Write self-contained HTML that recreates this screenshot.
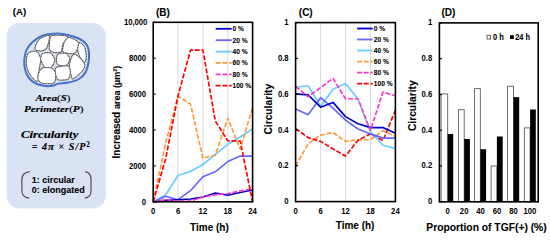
<!DOCTYPE html><html><head><meta charset="utf-8"><style>
html,body{margin:0;padding:0;background:#fff;width:550px;height:238px;overflow:hidden}
svg{display:block}
text{font-family:"Liberation Sans",sans-serif;font-weight:bold;fill:#000;stroke:#000;stroke-width:0.08px}
.ser{font-family:"Liberation Serif",serif;font-style:italic;font-weight:bold;stroke:#000;stroke-width:0.15px}
</style></head><body>
<svg width="550" height="238" viewBox="0 0 550 238">
<text x="12.8" y="15.1" font-size="9.6">(A)</text>
<rect x="6.7" y="23" width="99.1" height="185.6" rx="13" ry="13" fill="#dae3f3"/>
<path d="M52.70,33.70 C56.18,33.38 59.48,33.35 63.20,33.90 C66.92,34.45 71.73,35.85 75.00,37.00 C78.27,38.15 80.83,39.47 82.80,40.80 C84.77,42.13 85.82,43.38 86.80,45.00 C87.78,46.62 88.33,48.40 88.70,50.50 C89.07,52.60 89.12,55.18 89.00,57.60 C88.88,60.02 88.62,62.50 88.00,65.00 C87.38,67.50 86.80,70.27 85.30,72.60 C83.80,74.93 81.82,77.33 79.00,79.00 C76.18,80.67 71.73,81.85 68.40,82.60 C65.07,83.35 61.33,83.07 59.00,83.50 C56.67,83.93 56.23,84.73 54.40,85.20 C52.57,85.67 50.77,86.47 48.00,86.30 C45.23,86.13 40.55,85.12 37.80,84.20 C35.05,83.28 33.37,82.50 31.50,80.80 C29.63,79.10 27.80,76.70 26.60,74.00 C25.40,71.30 24.63,67.35 24.30,64.60 C23.97,61.85 24.20,60.00 24.60,57.50 C25.00,55.00 25.28,52.27 26.70,49.60 C28.12,46.93 30.50,43.80 33.10,41.50 C35.70,39.20 39.03,37.10 42.30,35.80 C45.57,34.50 49.22,34.02 52.70,33.70 Z" fill="#dae3f3" stroke="#4472c4" stroke-width="2"/>
<path d="M35.00,47.80 C35.15,46.74 36.74,42.52 37.57,41.31 C38.40,40.10 40.74,38.08 42.10,37.40 C43.46,36.71 48.45,34.84 49.21,35.44 C49.97,36.04 48.96,40.96 48.59,42.55 C48.22,44.13 46.85,48.05 46.02,49.04 C45.19,50.02 42.63,50.84 41.48,50.99 C40.34,51.15 36.99,50.75 36.23,50.38 C35.47,50.00 34.84,48.86 35.00,47.80 Z" fill="#fff" stroke="#a8a8a8" stroke-width="1.1"/>
<path d="M35.00,47.80 C35.15,46.74 36.74,42.52 37.57,41.31 C38.40,40.10 40.74,38.08 42.10,37.40 C43.46,36.71 48.45,34.84 49.21,35.44 C49.97,36.04 48.96,40.96 48.59,42.55 C48.22,44.13 46.85,48.05 46.02,49.04 C45.19,50.02 42.63,50.84 41.48,50.99 C40.34,51.15 36.99,50.75 36.23,50.38 C35.47,50.00 34.84,48.86 35.00,47.80 Z" fill="none" stroke="#222" stroke-width="0.9" stroke-dasharray="0.8,0.8"/>
<path d="M50.77,36.01 C51.77,35.11 56.06,35.21 58.05,35.28 C60.04,35.35 67.25,35.62 67.83,36.63 C68.41,37.64 63.83,42.14 63.04,43.91 C62.25,45.68 62.14,50.82 61.07,51.82 C60.00,52.81 55.24,52.68 53.89,52.44 C52.54,52.20 50.03,50.84 49.52,49.74 C49.01,48.63 49.38,44.58 49.52,42.98 C49.67,41.37 49.78,36.91 50.77,36.01 Z" fill="#fff" stroke="#a8a8a8" stroke-width="1.1"/>
<path d="M50.77,36.01 C51.77,35.11 56.06,35.21 58.05,35.28 C60.04,35.35 67.25,35.62 67.83,36.63 C68.41,37.64 63.83,42.14 63.04,43.91 C62.25,45.68 62.14,50.82 61.07,51.82 C60.00,52.81 55.24,52.68 53.89,52.44 C52.54,52.20 50.03,50.84 49.52,49.74 C49.01,48.63 49.38,44.58 49.52,42.98 C49.67,41.37 49.78,36.91 50.77,36.01 Z" fill="none" stroke="#222" stroke-width="0.9" stroke-dasharray="0.8,0.8"/>
<path d="M68.70,37.35 C70.25,37.21 76.25,40.24 77.43,41.20 C78.62,42.16 79.10,44.27 78.89,45.57 C78.68,46.87 76.50,51.38 75.67,52.33 C74.83,53.28 73.21,53.76 71.71,53.68 C70.22,53.61 63.76,53.02 62.87,51.71 C61.99,50.40 63.44,44.13 64.12,42.45 C64.80,40.78 67.15,37.50 68.70,37.35 Z" fill="#fff" stroke="#a8a8a8" stroke-width="1.1"/>
<path d="M68.70,37.35 C70.25,37.21 76.25,40.24 77.43,41.20 C78.62,42.16 79.10,44.27 78.89,45.57 C78.68,46.87 76.50,51.38 75.67,52.33 C74.83,53.28 73.21,53.76 71.71,53.68 C70.22,53.61 63.76,53.02 62.87,51.71 C61.99,50.40 63.44,44.13 64.12,42.45 C64.80,40.78 67.15,37.50 68.70,37.35 Z" fill="none" stroke="#222" stroke-width="0.9" stroke-dasharray="0.8,0.8"/>
<path d="M79.60,42.50 C80.38,42.21 83.53,45.16 84.30,46.50 C85.07,47.84 86.03,52.37 86.20,54.00 C86.38,55.63 86.03,59.51 85.80,60.50 C85.57,61.49 84.90,62.91 84.20,62.50 C83.50,62.09 80.57,58.58 79.80,57.00 C79.03,55.42 77.62,50.69 77.60,49.00 C77.58,47.31 78.82,42.79 79.60,42.50 Z" fill="#fff" stroke="#a8a8a8" stroke-width="1.1"/>
<path d="M79.60,42.50 C80.38,42.21 83.53,45.16 84.30,46.50 C85.07,47.84 86.03,52.37 86.20,54.00 C86.38,55.63 86.03,59.51 85.80,60.50 C85.57,61.49 84.90,62.91 84.20,62.50 C83.50,62.09 80.57,58.58 79.80,57.00 C79.03,55.42 77.62,50.69 77.60,49.00 C77.58,47.31 78.82,42.79 79.60,42.50 Z" fill="none" stroke="#222" stroke-width="0.9" stroke-dasharray="0.8,0.8"/>
<path d="M27.47,54.28 C28.20,52.73 31.37,51.44 32.57,51.22 C33.77,51.01 36.82,51.48 37.77,52.45 C38.72,53.41 40.59,57.32 40.73,59.49 C40.87,61.65 39.22,68.61 39.00,71.01 C38.77,73.42 39.23,78.96 38.79,80.09 C38.35,81.22 36.32,81.45 35.22,80.70 C34.13,79.95 30.44,75.54 29.41,73.66 C28.37,71.78 26.57,66.85 26.35,64.59 C26.12,62.33 26.74,55.84 27.47,54.28 Z" fill="#fff" stroke="#a8a8a8" stroke-width="1.1"/>
<path d="M27.47,54.28 C28.20,52.73 31.37,51.44 32.57,51.22 C33.77,51.01 36.82,51.48 37.77,52.45 C38.72,53.41 40.59,57.32 40.73,59.49 C40.87,61.65 39.22,68.61 39.00,71.01 C38.77,73.42 39.23,78.96 38.79,80.09 C38.35,81.22 36.32,81.45 35.22,80.70 C34.13,79.95 30.44,75.54 29.41,73.66 C28.37,71.78 26.57,66.85 26.35,64.59 C26.12,62.33 26.74,55.84 27.47,54.28 Z" fill="none" stroke="#222" stroke-width="0.9" stroke-dasharray="0.8,0.8"/>
<path d="M42.46,53.59 C43.60,52.82 48.99,52.26 50.44,52.96 C51.88,53.66 54.69,57.96 54.85,59.58 C55.01,61.19 52.93,65.84 51.80,66.82 C50.67,67.80 46.49,68.82 45.19,67.98 C43.89,67.13 40.99,61.25 40.67,59.58 C40.35,57.90 41.32,54.36 42.46,53.59 Z" fill="#fff" stroke="#a8a8a8" stroke-width="1.1"/>
<path d="M42.46,53.59 C43.60,52.82 48.99,52.26 50.44,52.96 C51.88,53.66 54.69,57.96 54.85,59.58 C55.01,61.19 52.93,65.84 51.80,66.82 C50.67,67.80 46.49,68.82 45.19,67.98 C43.89,67.13 40.99,61.25 40.67,59.58 C40.35,57.90 41.32,54.36 42.46,53.59 Z" fill="none" stroke="#222" stroke-width="0.9" stroke-dasharray="0.8,0.8"/>
<path d="M57.34,54.87 C57.96,53.97 60.48,53.24 61.57,53.12 C62.65,53.00 65.65,53.24 66.61,53.84 C67.57,54.44 69.63,57.13 69.81,58.27 C69.99,59.41 68.82,62.72 68.16,63.62 C67.50,64.52 65.34,65.87 64.14,65.99 C62.94,66.11 58.77,65.25 57.86,64.65 C56.94,64.05 56.37,61.98 56.31,60.84 C56.25,59.70 56.73,55.77 57.34,54.87 Z" fill="#fff" stroke="#a8a8a8" stroke-width="1.1"/>
<path d="M57.34,54.87 C57.96,53.97 60.48,53.24 61.57,53.12 C62.65,53.00 65.65,53.24 66.61,53.84 C67.57,54.44 69.63,57.13 69.81,58.27 C69.99,59.41 68.82,62.72 68.16,63.62 C67.50,64.52 65.34,65.87 64.14,65.99 C62.94,66.11 58.77,65.25 57.86,64.65 C56.94,64.05 56.37,61.98 56.31,60.84 C56.25,59.70 56.73,55.77 57.34,54.87 Z" fill="none" stroke="#222" stroke-width="0.9" stroke-dasharray="0.8,0.8"/>
<path d="M72.00,56.00 C72.63,54.80 73.87,54.09 74.80,54.30 C75.73,54.51 78.81,56.53 80.00,57.80 C81.19,59.07 84.77,63.60 85.00,65.20 C85.23,66.80 83.05,70.12 82.00,71.50 C80.95,72.88 77.13,76.15 76.00,77.00 C74.87,77.85 72.97,79.38 72.30,78.80 C71.63,78.22 70.64,73.66 70.30,72.00 C69.96,70.34 69.20,66.47 69.40,64.60 C69.60,62.73 71.37,57.20 72.00,56.00 Z" fill="#fff" stroke="#a8a8a8" stroke-width="1.1"/>
<path d="M72.00,56.00 C72.63,54.80 73.87,54.09 74.80,54.30 C75.73,54.51 78.81,56.53 80.00,57.80 C81.19,59.07 84.77,63.60 85.00,65.20 C85.23,66.80 83.05,70.12 82.00,71.50 C80.95,72.88 77.13,76.15 76.00,77.00 C74.87,77.85 72.97,79.38 72.30,78.80 C71.63,78.22 70.64,73.66 70.30,72.00 C69.96,70.34 69.20,66.47 69.40,64.60 C69.60,62.73 71.37,57.20 72.00,56.00 Z" fill="none" stroke="#222" stroke-width="0.9" stroke-dasharray="0.8,0.8"/>
<path d="M41.90,68.30 C43.34,67.49 48.84,67.24 50.43,67.68 C52.02,68.11 54.93,70.71 55.53,72.04 C56.12,73.38 55.79,77.78 55.53,79.12 C55.26,80.45 54.72,82.97 53.24,83.48 C51.76,83.99 44.58,83.87 42.84,83.48 C41.10,83.10 38.91,81.19 38.37,80.16 C37.82,79.12 37.75,76.03 38.16,74.64 C38.57,73.26 40.47,69.11 41.90,68.30 Z" fill="#fff" stroke="#a8a8a8" stroke-width="1.1"/>
<path d="M41.90,68.30 C43.34,67.49 48.84,67.24 50.43,67.68 C52.02,68.11 54.93,70.71 55.53,72.04 C56.12,73.38 55.79,77.78 55.53,79.12 C55.26,80.45 54.72,82.97 53.24,83.48 C51.76,83.99 44.58,83.87 42.84,83.48 C41.10,83.10 38.91,81.19 38.37,80.16 C37.82,79.12 37.75,76.03 38.16,74.64 C38.57,73.26 40.47,69.11 41.90,68.30 Z" fill="none" stroke="#222" stroke-width="0.9" stroke-dasharray="0.8,0.8"/>
<path d="M56.31,67.34 C57.81,66.63 66.41,65.34 68.06,65.90 C69.70,66.47 70.43,70.63 70.43,72.18 C70.43,73.73 69.52,78.30 68.06,79.19 C66.59,80.08 59.35,80.65 57.86,79.81 C56.37,78.96 55.47,73.43 55.28,71.98 C55.10,70.52 54.82,68.05 56.31,67.34 Z" fill="#fff" stroke="#a8a8a8" stroke-width="1.1"/>
<path d="M56.31,67.34 C57.81,66.63 66.41,65.34 68.06,65.90 C69.70,66.47 70.43,70.63 70.43,72.18 C70.43,73.73 69.52,78.30 68.06,79.19 C66.59,80.08 59.35,80.65 57.86,79.81 C56.37,78.96 55.47,73.43 55.28,71.98 C55.10,70.52 54.82,68.05 56.31,67.34 Z" fill="none" stroke="#222" stroke-width="0.9" stroke-dasharray="0.8,0.8"/>
<text class="ser" x="35.4" y="100.9" font-size="9" textLength="34.9" lengthAdjust="spacingAndGlyphs">Area<tspan font-weight="normal" font-style="normal">(</tspan>S<tspan font-weight="normal" font-style="normal">)</tspan></text>
<text class="ser" x="24" y="111.8" font-size="9" textLength="59.4" lengthAdjust="spacingAndGlyphs">Perimeter<tspan font-weight="normal" font-style="normal">(</tspan>P<tspan font-weight="normal" font-style="normal">)</tspan></text>
<text class="ser" x="21.1" y="138.4" font-size="9.7" textLength="57.2" lengthAdjust="spacingAndGlyphs">Circularity</text>
<text class="ser" x="31.7" y="150.2" font-size="10" textLength="53.6" lengthAdjust="spacing"><tspan font-style="normal">=</tspan> 4<tspan font-size="11">π</tspan> <tspan font-style="normal">×</tspan> S/P</text>
<text x="86.2" y="146.7" font-size="7.2" font-weight="bold" stroke="#000" stroke-width="0.25" style="font-family:'Liberation Serif',serif">2</text>
<path d="M29.6,171.6 C24.5,172.3 22,174.5 21.9,179 L21.9,191 C22,195.5 24.5,197.6 29.2,198.1" fill="none" stroke="#505050" stroke-width="1.2"/>
<path d="M85.2,171.6 C89,172.3 91,174.5 91,179 L91,191 C91,195.5 89,197.6 84.7,198.1" fill="none" stroke="#505050" stroke-width="1.2"/>
<text x="31.8" y="183.2" font-size="9">1: circular</text>
<text x="31.8" y="193.3" font-size="9">0: elongated</text>
<text x="156" y="15.7" font-size="10">(B)</text>
<line x1="178.0" y1="22.3" x2="178.0" y2="201.8" stroke="#d9d9d9" stroke-width="1"/>
<line x1="202.9" y1="22.3" x2="202.9" y2="201.8" stroke="#d9d9d9" stroke-width="1"/>
<line x1="227.8" y1="22.3" x2="227.8" y2="201.8" stroke="#d9d9d9" stroke-width="1"/>
<polyline points="153.2,202.0 165.6,194.9 178.0,175.5 190.5,171.5 202.9,164.5 215.3,154.3 227.8,144.3 240.2,137.0 252.6,128.8" fill="none" stroke="#66ccff" stroke-width="1.65" stroke-linejoin="round"/>
<polyline points="153.2,202.0 165.6,196.2 178.0,199.7 190.5,190.7 202.9,176.8 215.3,171.8 227.8,161.6 240.2,156.1 252.6,156.1" fill="none" stroke="#6666ff" stroke-width="1.65" stroke-linejoin="round"/>
<polyline points="153.2,202.0 165.6,200.4 178.0,199.7 190.5,199.0 202.9,197.0 215.3,193.0 227.8,195.3 240.2,192.5 252.6,190.0" fill="none" stroke="#0000cc" stroke-width="1.65" stroke-linejoin="round"/>
<polyline points="153.2,202.0 165.6,199.7 178.0,201.0 190.5,201.0 202.9,197.0 215.3,194.9 227.8,193.5 240.2,191.0 252.6,188.6" fill="none" stroke="#ff33cc" stroke-width="1.65" stroke-linejoin="round" stroke-dasharray="4.9,1.8"/>
<polyline points="153.2,202.0 165.6,143.0 178.0,96.3 190.5,104.0 202.9,158.2 215.3,155.0 227.8,118.3 240.2,149.0 252.6,107.6" fill="none" stroke="#ff9933" stroke-width="1.65" stroke-linejoin="round" stroke-dasharray="4.9,1.8"/>
<polyline points="153.2,202.0 165.6,159.0 178.0,96.0 190.5,50.1 202.9,50.1 215.3,121.0 227.8,140.8 240.2,141.0 252.6,202.0" fill="none" stroke="#ff0000" stroke-width="1.65" stroke-linejoin="round" stroke-dasharray="4.9,1.8"/>
<rect x="153.2" y="22.3" width="99.4" height="179.5" fill="none" stroke="#000" stroke-width="1.6"/>
<line x1="153.2" y1="201.8" x2="155.7" y2="201.8" stroke="#000" stroke-width="1.2"/>
<text transform="translate(146.10,204.60) scale(0.94,1)" font-size="8.2" text-anchor="end" style="stroke:none">0</text>
<line x1="153.2" y1="165.9" x2="155.7" y2="165.9" stroke="#000" stroke-width="1.2"/>
<text transform="translate(146.10,168.70) scale(0.94,1)" font-size="8.2" text-anchor="end" style="stroke:none">2000</text>
<line x1="153.2" y1="130.0" x2="155.7" y2="130.0" stroke="#000" stroke-width="1.2"/>
<text transform="translate(146.10,132.80) scale(0.94,1)" font-size="8.2" text-anchor="end" style="stroke:none">4000</text>
<line x1="153.2" y1="94.1" x2="155.7" y2="94.1" stroke="#000" stroke-width="1.2"/>
<text transform="translate(146.10,96.90) scale(0.94,1)" font-size="8.2" text-anchor="end" style="stroke:none">6000</text>
<line x1="153.2" y1="58.2" x2="155.7" y2="58.2" stroke="#000" stroke-width="1.2"/>
<text transform="translate(146.10,61.00) scale(0.94,1)" font-size="8.2" text-anchor="end" style="stroke:none">8000</text>
<line x1="153.2" y1="22.3" x2="155.7" y2="22.3" stroke="#000" stroke-width="1.2"/>
<text transform="translate(147.40,25.10) scale(0.94,1)" font-size="8.2" text-anchor="end" style="stroke:none">10,000</text>
<text transform="translate(153.20,214.30) scale(0.94,1)" font-size="8.2" text-anchor="middle" style="stroke:none">0</text>
<text transform="translate(178.05,214.30) scale(0.94,1)" font-size="8.2" text-anchor="middle" style="stroke:none">6</text>
<text transform="translate(202.90,214.30) scale(0.94,1)" font-size="8.2" text-anchor="middle" style="stroke:none">12</text>
<text transform="translate(227.75,214.30) scale(0.94,1)" font-size="8.2" text-anchor="middle" style="stroke:none">18</text>
<text transform="translate(252.60,214.30) scale(0.94,1)" font-size="8.2" text-anchor="middle" style="stroke:none">24</text>
<text x="209.4" y="231" font-size="10" text-anchor="middle">Time (h)</text>
<text transform="translate(119.8,158.5) rotate(-90)" font-size="10">Increased <tspan font-size="9">area (µm²)</tspan></text>
<line x1="215.7" y1="28.8" x2="231.7" y2="28.8" stroke="#0000cc" stroke-width="1.8"/>
<text x="232.5" y="31.2" font-size="6.6">0 %</text>
<line x1="215.7" y1="40.2" x2="231.7" y2="40.2" stroke="#6666ff" stroke-width="1.8"/>
<text x="232.5" y="42.6" font-size="6.6">20 %</text>
<line x1="215.7" y1="51.6" x2="231.7" y2="51.6" stroke="#66ccff" stroke-width="1.8"/>
<text x="232.5" y="54.0" font-size="6.6">40 %</text>
<line x1="215.7" y1="62.9" x2="231.7" y2="62.9" stroke="#ff9933" stroke-width="1.8" stroke-dasharray="4.9,1.8"/>
<text x="232.5" y="65.3" font-size="6.6">60 %</text>
<line x1="215.7" y1="74.3" x2="231.7" y2="74.3" stroke="#ff33cc" stroke-width="1.8" stroke-dasharray="4.9,1.8"/>
<text x="232.5" y="76.7" font-size="6.6">80 %</text>
<line x1="215.7" y1="85.7" x2="231.7" y2="85.7" stroke="#ff0000" stroke-width="1.8" stroke-dasharray="4.9,1.8"/>
<text x="232.5" y="88.1" font-size="6.6">100 %</text>
<text x="298.8" y="15.7" font-size="10">(C)</text>
<line x1="320.6" y1="22.6" x2="320.6" y2="201.6" stroke="#d9d9d9" stroke-width="1"/>
<line x1="345.5" y1="22.6" x2="345.5" y2="201.6" stroke="#d9d9d9" stroke-width="1"/>
<line x1="370.4" y1="22.6" x2="370.4" y2="201.6" stroke="#d9d9d9" stroke-width="1"/>
<polyline points="295.6,166.1 308.1,144.0 320.6,135.1 333.0,132.6 345.5,141.4 358.0,139.7 370.4,139.7 382.9,130.6 395.4,136.4" fill="none" stroke="#ff9933" stroke-width="1.65" stroke-linejoin="round" stroke-dasharray="4.9,1.8"/>
<polyline points="295.6,128.6 308.1,137.6 320.6,141.4 333.0,149.0 345.5,156.0 358.0,140.2 370.4,133.9 382.9,140.7 395.4,110.3" fill="none" stroke="#ff0000" stroke-width="1.65" stroke-linejoin="round" stroke-dasharray="4.9,1.8"/>
<polyline points="295.6,87.3 308.1,85.8 320.6,106.2 333.0,89.2 345.5,83.5 358.0,99.0 370.4,131.7 382.9,145.2 395.4,148.5" fill="none" stroke="#66ccff" stroke-width="1.65" stroke-linejoin="round"/>
<polyline points="295.6,109.0 308.1,114.7 320.6,97.7 333.0,108.1 345.5,120.2 358.0,129.0 370.4,133.9 382.9,138.1 395.4,138.1" fill="none" stroke="#6666ff" stroke-width="1.65" stroke-linejoin="round"/>
<polyline points="295.6,93.9 308.1,94.9 320.6,107.2 333.0,102.4 345.5,116.6 358.0,123.7 370.4,127.6 382.9,127.6 395.4,133.3" fill="none" stroke="#0000cc" stroke-width="1.65" stroke-linejoin="round"/>
<polyline points="295.6,86.4 308.1,96.8 320.6,87.6 333.0,78.4 345.5,98.7 358.0,98.7 370.4,130.5 382.9,92.1 395.4,95.7" fill="none" stroke="#ff33cc" stroke-width="1.65" stroke-linejoin="round" stroke-dasharray="4.9,1.8"/>
<rect x="295.6" y="22.6" width="99.8" height="179.0" fill="none" stroke="#000" stroke-width="1.6"/>
<line x1="295.6" y1="201.6" x2="298.1" y2="201.6" stroke="#000" stroke-width="1.2"/>
<text transform="translate(288.60,204.20) scale(0.94,1)" font-size="8.2" text-anchor="end" style="stroke:none">0</text>
<line x1="295.6" y1="165.8" x2="298.1" y2="165.8" stroke="#000" stroke-width="1.2"/>
<text transform="translate(288.60,168.40) scale(0.94,1)" font-size="8.2" text-anchor="end" style="stroke:none">0.2</text>
<line x1="295.6" y1="130.0" x2="298.1" y2="130.0" stroke="#000" stroke-width="1.2"/>
<text transform="translate(288.60,132.60) scale(0.94,1)" font-size="8.2" text-anchor="end" style="stroke:none">0.4</text>
<line x1="295.6" y1="94.2" x2="298.1" y2="94.2" stroke="#000" stroke-width="1.2"/>
<text transform="translate(288.60,96.80) scale(0.94,1)" font-size="8.2" text-anchor="end" style="stroke:none">0.6</text>
<line x1="295.6" y1="58.4" x2="298.1" y2="58.4" stroke="#000" stroke-width="1.2"/>
<text transform="translate(288.60,61.00) scale(0.94,1)" font-size="8.2" text-anchor="end" style="stroke:none">0.8</text>
<line x1="295.6" y1="22.6" x2="298.1" y2="22.6" stroke="#000" stroke-width="1.2"/>
<text transform="translate(288.60,25.20) scale(0.94,1)" font-size="8.2" text-anchor="end" style="stroke:none">1</text>
<text transform="translate(295.60,214.30) scale(0.94,1)" font-size="8.2" text-anchor="middle" style="stroke:none">0</text>
<text transform="translate(320.55,214.30) scale(0.94,1)" font-size="8.2" text-anchor="middle" style="stroke:none">6</text>
<text transform="translate(345.50,214.30) scale(0.94,1)" font-size="8.2" text-anchor="middle" style="stroke:none">12</text>
<text transform="translate(370.45,214.30) scale(0.94,1)" font-size="8.2" text-anchor="middle" style="stroke:none">18</text>
<text transform="translate(395.40,214.30) scale(0.94,1)" font-size="8.2" text-anchor="middle" style="stroke:none">24</text>
<text x="355.1" y="229.3" font-size="10" text-anchor="middle">Time (h)</text>
<text transform="translate(272.2,134.6) rotate(-90)" font-size="10.25">Circularity</text>
<line x1="357.1" y1="28.5" x2="372.7" y2="28.5" stroke="#0000cc" stroke-width="1.8"/>
<text x="373.8" y="30.9" font-size="6.6">0 %</text>
<line x1="357.1" y1="39.5" x2="372.7" y2="39.5" stroke="#6666ff" stroke-width="1.8"/>
<text x="373.8" y="41.9" font-size="6.6">20 %</text>
<line x1="357.1" y1="50.5" x2="372.7" y2="50.5" stroke="#66ccff" stroke-width="1.8"/>
<text x="373.8" y="52.9" font-size="6.6">40 %</text>
<line x1="357.1" y1="61.6" x2="372.7" y2="61.6" stroke="#ff9933" stroke-width="1.8" stroke-dasharray="4.9,1.8"/>
<text x="373.8" y="64.0" font-size="6.6">60 %</text>
<line x1="357.1" y1="72.6" x2="372.7" y2="72.6" stroke="#ff33cc" stroke-width="1.8" stroke-dasharray="4.9,1.8"/>
<text x="373.8" y="75.0" font-size="6.6">80 %</text>
<line x1="357.1" y1="83.6" x2="372.7" y2="83.6" stroke="#ff0000" stroke-width="1.8" stroke-dasharray="4.9,1.8"/>
<text x="373.8" y="86.0" font-size="6.6">100 %</text>
<text x="441.5" y="15.7" font-size="10">(D)</text>
<rect x="441.10" y="93.9" width="6.60" height="107.9" fill="#fff" stroke="#555" stroke-width="0.85"/>
<rect x="447.70" y="134.0" width="5.50" height="67.8" fill="#000"/>
<rect x="458.40" y="109.7" width="5.80" height="92.1" fill="#fff" stroke="#555" stroke-width="0.85"/>
<rect x="464.20" y="139.0" width="5.70" height="62.8" fill="#000"/>
<rect x="474.60" y="88.6" width="5.70" height="113.2" fill="#fff" stroke="#555" stroke-width="0.85"/>
<rect x="480.30" y="149.2" width="5.80" height="52.6" fill="#000"/>
<rect x="491.10" y="166.0" width="5.80" height="35.8" fill="#fff" stroke="#555" stroke-width="0.85"/>
<rect x="496.90" y="136.5" width="5.80" height="65.3" fill="#000"/>
<rect x="507.60" y="86.2" width="5.90" height="115.6" fill="#fff" stroke="#555" stroke-width="0.85"/>
<rect x="513.50" y="97.1" width="5.70" height="104.7" fill="#000"/>
<rect x="524.30" y="127.9" width="5.80" height="73.9" fill="#fff" stroke="#555" stroke-width="0.85"/>
<rect x="530.10" y="109.5" width="5.70" height="92.3" fill="#000"/>
<rect x="439.4" y="22.9" width="98.8" height="178.9" fill="none" stroke="#000" stroke-width="1.6"/>
<line x1="439.4" y1="201.8" x2="441.9" y2="201.8" stroke="#000" stroke-width="1.2"/>
<text transform="translate(432.20,204.10) scale(0.94,1)" font-size="8.2" text-anchor="end" style="stroke:none">0</text>
<line x1="439.4" y1="166.0" x2="441.9" y2="166.0" stroke="#000" stroke-width="1.2"/>
<text transform="translate(432.20,168.32) scale(0.94,1)" font-size="8.2" text-anchor="end" style="stroke:none">0.2</text>
<line x1="439.4" y1="130.2" x2="441.9" y2="130.2" stroke="#000" stroke-width="1.2"/>
<text transform="translate(432.20,132.54) scale(0.94,1)" font-size="8.2" text-anchor="end" style="stroke:none">0.4</text>
<line x1="439.4" y1="94.5" x2="441.9" y2="94.5" stroke="#000" stroke-width="1.2"/>
<text transform="translate(432.20,96.76) scale(0.94,1)" font-size="8.2" text-anchor="end" style="stroke:none">0.6</text>
<line x1="439.4" y1="58.7" x2="441.9" y2="58.7" stroke="#000" stroke-width="1.2"/>
<text transform="translate(432.20,60.98) scale(0.94,1)" font-size="8.2" text-anchor="end" style="stroke:none">0.8</text>
<line x1="439.4" y1="22.9" x2="441.9" y2="22.9" stroke="#000" stroke-width="1.2"/>
<text transform="translate(432.20,25.20) scale(0.94,1)" font-size="8.2" text-anchor="end" style="stroke:none">1</text>
<text transform="translate(447.70,214.20) scale(0.94,1)" font-size="8.2" text-anchor="middle" style="stroke:none">0</text>
<text transform="translate(464.15,214.20) scale(0.94,1)" font-size="8.2" text-anchor="middle" style="stroke:none">20</text>
<text transform="translate(480.60,214.20) scale(0.94,1)" font-size="8.2" text-anchor="middle" style="stroke:none">40</text>
<text transform="translate(497.05,214.20) scale(0.94,1)" font-size="8.2" text-anchor="middle" style="stroke:none">60</text>
<text transform="translate(513.50,214.20) scale(0.94,1)" font-size="8.2" text-anchor="middle" style="stroke:none">80</text>
<text transform="translate(529.95,214.20) scale(0.94,1)" font-size="8.2" text-anchor="middle" style="stroke:none">100</text>
<text x="486.5" y="230.7" font-size="10.3" text-anchor="middle">Proportion of TGF(+) (%)</text>
<text transform="translate(416.4,131.1) rotate(-90)" font-size="10.25">Circularity</text>
<rect x="487.1" y="35.3" width="3.4" height="3.7" fill="#fff" stroke="#666" stroke-width="1"/>
<text transform="translate(493.1,39.6) scale(0.87,1)" font-size="8.6">0 h</text>
<rect x="510" y="35.2" width="3.8" height="3.8" fill="#000"/>
<text transform="translate(515.2,39.6) scale(0.87,1)" font-size="8.6">24 h</text>
</svg></body></html>
